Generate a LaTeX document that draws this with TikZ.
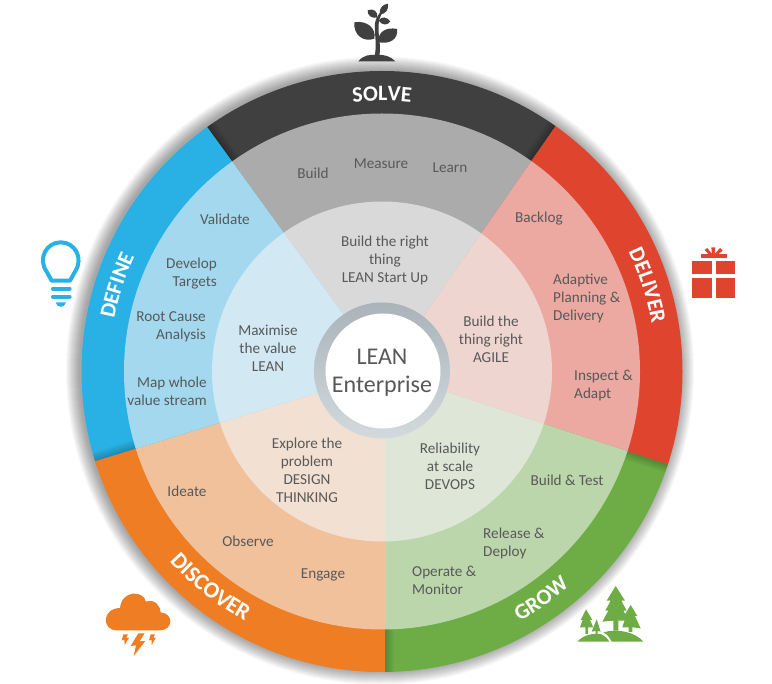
\documentclass[tikz,border=0pt]{standalone}
\usepackage{fontspec}
\setmainfont{Carlito}
\usetikzlibrary{decorations.text}
\definecolor{cSolve}{HTML}{404040}\definecolor{mSolve}{HTML}{ABABAB}\definecolor{iSolve}{HTML}{D9D9D9}
\definecolor{cDefine}{HTML}{29B0E4}\definecolor{mDefine}{HTML}{A3D8EF}\definecolor{iDefine}{HTML}{D2E8F2}
\definecolor{cDeliver}{HTML}{DF442E}\definecolor{mDeliver}{HTML}{EBA9A1}\definecolor{iDeliver}{HTML}{EFD5D0}
\definecolor{cGrow}{HTML}{6EAD46}\definecolor{mGrow}{HTML}{BCD6AC}\definecolor{iGrow}{HTML}{DEE7D7}
\definecolor{cDiscover}{HTML}{EE7D23}\definecolor{mDiscover}{HTML}{F0C19B}\definecolor{iDiscover}{HTML}{F2E0D2}
\definecolor{txt}{HTML}{595959}
\definecolor{ringA}{HTML}{A9B3B9}\definecolor{ringB}{HTML}{D2DADD}
\newcommand{\bandfont}{\fontsize{22}{22}\selectfont\bfseries}
\newcommand{\bandfontb}{\fontsize{23}{23}\selectfont\bfseries}
\tikzset{
  lab/.style={text=txt,inner sep=0pt,font=\fontsize{15.2}{18}\selectfont},
  labc/.style={lab,align=center},
  labl/.style={lab,align=left,anchor=west},
  labr/.style={lab,align=right,anchor=east},
  bandtext/.style={decoration={text along path,text align=center,text={|\bandfont\color{white}|#1}},decorate},
  bandtextb/.style={decoration={text along path,text align=center,text={|\bandfontb\color{white}|#1}},decorate}
}
\newcommand{\wedgeset}[5]{%
  \fill[#1] (A)--(Ptl)--(Ptr)--cycle;
  \fill[#2] (A)--(Ptr)--(Pr)--cycle;
  \fill[#3] (A)--(Pr)--(Pb)--cycle;
  \fill[#4] (A)--(Pb)--(Pl)--cycle;
  \fill[#5] (A)--(Pl)--(Ptl)--cycle;}
\newcommand{\castshadow}[1]{\foreach \w in {2,4,...,18}{\draw[black,opacity=.025,line width=\w pt] (A)--(#1);}}
\begin{document}
\begin{tikzpicture}[x=1pt,y=-1pt]
\useasboundingbox (0,0) rectangle (772,684);
\fill[white] (0,0) rectangle (772,684);
\coordinate (C) at (382,371.5);
\coordinate (A) at (385,372);
\coordinate (Ptl) at (29,-118);
\coordinate (Ptr) at (725,-118);
\coordinate (Pr) at (943,554);
\coordinate (Pb) at (385,972);
\coordinate (Pl) at (-193,550);
% outer soft shadow
\foreach \r in {301,302,...,314}{\fill[black,opacity=.028] (380,370.5) circle[radius=\r pt];}
% band
\begin{scope}
\clip (C) circle[radius=300.5pt];
\fill[cSolve] (A)--(Ptl)--(Ptr)--cycle;
\fill[cGrow] (A)--(Pr)--(Pb)--cycle;
\castshadow{Ptl}
\fill[cDefine] (A)--(Pl)--(Ptl)--cycle;
\castshadow{Ptr}\castshadow{Pr}
\fill[cDeliver] (A)--(Ptr)--(Pr)--cycle;
\castshadow{Pl}\castshadow{Pb}
\fill[cDiscover] (A)--(Pb)--(Pl)--cycle;
\end{scope}
% middle ring
\begin{scope}
\clip (C) circle[radius=258pt];
\wedgeset{mSolve}{mDeliver}{mGrow}{mDiscover}{mDefine}
\end{scope}
% inner ring
\begin{scope}
\clip (C) circle[radius=170pt];
\wedgeset{iSolve}{iDeliver}{iGrow}{iDiscover}{iDefine}
\end{scope}
% hub
\shade[top color=ringA,bottom color=ringB] (382,370.5) circle[radius=68pt];
\fill[white] (383,371) circle[radius=57.5pt];
\node[text=txt,inner sep=0pt,font=\fontsize{24}{28}\selectfont,align=center] (hub) at (382,372.5) {LEAN\\Enterprise};
% band titles
\path[postaction={bandtext=SOLVE}] (C) ++(120:271pt) arc[start angle=120,end angle=60,radius=271pt];
\path[postaction={bandtext=DEFINE}] (C) ++(192:273pt) arc[start angle=192,end angle=132,radius=273pt];
\path[postaction={bandtext=DELIVER}] (C) ++(48:274pt) arc[start angle=48,end angle=-12,radius=274pt];
\path[postaction={bandtext=GROW}] (C) ++(-85:285pt) arc[start angle=-85,end angle=-25,radius=285pt];
\path[postaction={bandtextb=DISCOVER}] (C) ++(-158.5:285pt) arc[start angle=-158.5,end angle=-98.5,radius=285pt];
% outer labels
\node[labc] (build) at (313,173) {Build};
\node[labc] (measure) at (381,164) {Measure};
\node[labc] (learn) at (450,168) {Learn};
\node[labc] (validate) at (225,219) {Validate};
\node[labr] (targets) at (217,274) {Develop\\Targets};
\node[labr] (root) at (206,327) {Root Cause\\Analysis};
\node[labr] (map) at (207,391) {Map whole\\value stream};
\node[labc] (backlog) at (539,219) {Backlog};
\node[labl] (adaptive) at (553,298) {Adaptive\\Planning \&\\Delivery};
\node[labl] (inspect) at (574,386) {Inspect \&\\Adapt};
\node[labc] (buildtest) at (567,480) {Build \& Test};
\node[labl] (release) at (483,543) {Release \&\\Deploy};
\node[labl] (operate) at (412,580) {Operate \&\\Monitor};
\node[labc] (ideate) at (187,491) {Ideate};
\node[labc] (observe) at (248,541) {Observe};
\node[labc] (engage) at (323,575) {Engage};
% inner labels
\node[labc] (i1) at (385,260) {Build the right\\thing\\LEAN Start Up};
\node[labc] (i2) at (491,339.5) {Build the\\thing right\\AGILE};
\node[labc] (i3) at (450,466.5) {Reliability\\at scale\\DEVOPS};
\node[labc] (i4) at (307,470) {Explore the\\problem\\DESIGN\\THINKING};
\node[labc] (i5) at (268,348) {Maximise\\the value\\LEAN};
% plant icon
\begin{scope}[shift={(320,0)},x=0.3333pt,y=-0.3333pt]
\fill[cSolve] (115,184) .. controls (130,165) and (150,163) .. (172,165) .. controls (195,163) and (212,170) .. (226,184) -- cycle;
\fill[cSolve] (164,168) .. controls (172,130) and (162,100) .. (165,70) .. controls (167,55) and (175,45) .. (182,35) -- (187,38) .. controls (180,52) and (175,62) .. (176,80) .. controls (174,110) and (184,135) .. (178,168) -- cycle;
\fill[cSolve] (103,67) .. controls (140,60) and (170,85) .. (163,116) .. controls (130,128) and (100,105) .. (103,67) -- cycle;
\fill[cSolve] (231,87) .. controls (200,80) and (172,95) .. (176,127) .. controls (210,133) and (235,118) .. (231,87) -- cycle;
\fill[cSolve] (143,31) .. controls (160,23) and (175,35) .. (172,53) .. controls (155,57) and (141,45) .. (143,31) -- cycle;
\fill[cSolve] (204,11) .. controls (188,13) and (176,25) .. (180,43) .. controls (197,43) and (207,28) .. (204,11) -- cycle;
\fill[cSolve] (211,64) .. controls (200,50) and (185,48) .. (176,62) .. controls (187,77) and (203,77) .. (211,64) -- cycle;
\end{scope}
% bulb icon
\begin{scope}[shift={(20,230)},x=0.3333pt,y=-0.3333pt]
\draw[cDefine,line width=4pt,line join=round] (95,152) -- (80,125) .. controls (52,85) and (80,37) .. (122,37) .. controls (165,37) and (192,85) .. (165,125) -- (150,152) -- cycle;
\draw[cDefine,line width=4pt,line cap=round] (99,176) -- (149,176);
\draw[cDefine,line width=4pt,line cap=round] (99,200) -- (149,200);
\fill[cDefine] (107,217) -- (138,217) .. controls (135,235) and (110,235) .. (107,217) -- cycle;
\end{scope}
% gift icon
\begin{scope}[shift={(670,230)},x=0.3333pt,y=-0.3333pt]
\fill[cDeliver] (67,93) rectangle (125,133);
\fill[cDeliver] (137,93) rectangle (195,133);
\fill[cDeliver] (67,145) rectangle (125,203);
\fill[cDeliver] (137,145) rectangle (195,203);
\fill[cDeliver] (92,73) rectangle (170,85);
\fill[cDeliver] (118,75) -- (104,60) -- (112,54) -- (126,72) -- (124,52) -- (136,52) -- (134,72) -- (150,54) -- (158,62) -- (142,75) -- cycle;
\end{scope}
% cloud icon
\begin{scope}[shift={(90,580)},x=0.3333pt,y=-0.3333pt]
\fill[cDiscover] (80,151) .. controls (35,151) and (35,85) .. (90,84) .. controls (95,30) and (160,30) .. (168,65) .. controls (195,55) and (212,80) .. (212,97) .. controls (252,100) and (250,151) .. (210,151) -- cycle;
\fill[cDiscover] (145,160) -- (122,198) -- (138,196) -- (131,228) -- (166,183) -- (149,184) -- (164,160) -- cycle;
\fill[cDiscover] (100,163) -- (95,181) -- (103,180) -- (104,195) -- (117,173) -- (109,174) -- (114,163) -- cycle;
\fill[cDiscover] (182,163) -- (177,181) -- (185,180) -- (185,195) -- (198,173) -- (190,174) -- (195,163) -- cycle;
\end{scope}
% trees icon
\begin{scope}[shift={(560,570)},x=0.3333pt,y=-0.3333pt]
\fill[cGrow] (167,48) -- (195,92) -- (184,92) -- (200,122) -- (190,122) -- (207,152) -- (175,152) -- (175,182) -- (160,182) -- (160,152) -- (127,155) -- (145,122) -- (136,122) -- (152,92) -- (140,92) -- cycle;
\fill[cGrow] (212,105) -- (232,138) -- (225,138) -- (242,175) -- (217,172) -- (217,186) -- (206,186) -- (206,172) -- (187,172) -- (198,138) -- (192,138) -- cycle;
\fill[cGrow] (78,118) -- (97,150) -- (90,150) -- (100,172) -- (84,172) -- (84,192) -- (76,192) -- (76,172) -- (60,172) -- (68,150) -- (62,150) -- cycle;
\fill[cGrow] (110,148) -- (122,185) -- (113,183) -- (113,192) -- (107,192) -- (107,183) -- (95,185) -- cycle;
\fill[cGrow] (52,215) .. controls (70,195) and (100,188) .. (125,193) .. controls (135,198) and (142,205) .. (148,215) -- cycle;
\fill[cGrow] (155,215) .. controls (148,200) and (140,192) .. (130,187) .. controls (170,175) and (225,185) .. (250,215) -- cycle;
\end{scope}
\end{tikzpicture}
\end{document}
